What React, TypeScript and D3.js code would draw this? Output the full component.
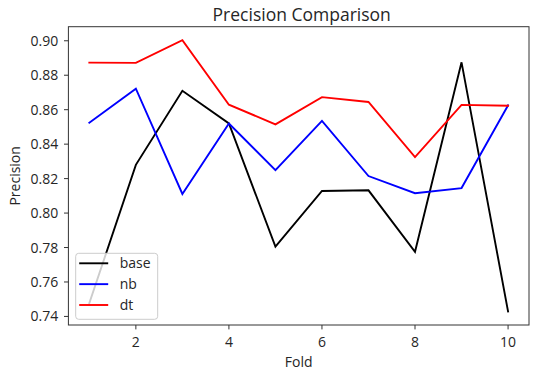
import React from "react";
import * as d3 from "d3";

const folds = [1, 2, 3, 4, 5, 6, 7, 8, 9, 10];
const baseValues = [0.7477, 0.828, 0.871, 0.852, 0.7805, 0.8128, 0.8132, 0.7775, 0.8875, 0.7429];
const nbValues = [0.8524, 0.8722, 0.8111, 0.852, 0.8249, 0.8535, 0.8215, 0.8115, 0.8145, 0.8625];
const dtValues = [0.8873, 0.8872, 0.9003, 0.8629, 0.8515, 0.8673, 0.8645, 0.8325, 0.8628, 0.8623];
const xTicks = [2, 4, 6, 8, 10];
const yTicks = [0.74, 0.76, 0.78, 0.8, 0.82, 0.84, 0.86, 0.88, 0.9];

const seriesNames = ["base", "nb", "dt"];
const seriesData = [baseValues, nbValues, dtValues];
const seriesColors = ["#000000", "#0000ff", "#ff0000"];

const W = 554;
const H = 372;
const M = { left: 68.4, right: 529, top: 26.7, bottom: 325 };
const FONT = "'Open Sans', 'Noto Sans', sans-serif";
const TXT = "#262626";

export default function App() {
  const allVals = seriesData.flat();
  const yMin = d3.min(allVals)!;
  const yMax = d3.max(allVals)!;
  const yPad = (yMax - yMin) * 0.05;
  const xPad = (d3.max(folds)! - d3.min(folds)!) * 0.05;

  const x = d3.scaleLinear().domain([d3.min(folds)! - xPad, d3.max(folds)! + xPad]).range([M.left, M.right]);
  const y = d3.scaleLinear().domain([yMin - yPad, yMax + yPad]).range([M.bottom, M.top]);

  const line = d3
    .line<number>()
    .x((_, i) => x(folds[i]))
    .y((d) => y(d));

  const legX = 75.7;
  const legY = 253.3;
  const legW = 82;
  const legH = 66;

  return (
    <div style={{ position: "fixed", left: 0, top: 0, width: W, height: H, background: "#fff" }}>
      <svg width={W} height={H} style={{ display: "block" }} fontFamily={FONT}>
        <rect x={0} y={0} width={W} height={H} fill="#fff" />
        <defs>
          <clipPath id="plotclip">
            <rect x={M.left} y={M.top} width={M.right - M.left} height={M.bottom - M.top} />
          </clipPath>
        </defs>
        <g clipPath="url(#plotclip)">
          {seriesData.map((vals, i) => (
            <path
              key={seriesNames[i]}
              d={line(vals) || ""}
              fill="none"
              stroke={seriesColors[i]}
              strokeWidth={1.9}
              strokeLinejoin="miter"
              strokeLinecap="square"
            />
          ))}
        </g>
        <rect
          x={M.left}
          y={M.top}
          width={M.right - M.left}
          height={M.bottom - M.top}
          fill="none"
          stroke="#333"
          strokeWidth={1}
        />
        {xTicks.map((t) => (
          <g key={"x" + t}>
            <line x1={x(t)} x2={x(t)} y1={M.bottom} y2={M.bottom + 4.4} stroke="#333" strokeWidth={1} />
            <text x={x(t)} y={347.3} textAnchor="middle" fontSize={14} fill={TXT}>
              {t}
            </text>
          </g>
        ))}
        {yTicks.map((t) => (
          <g key={"y" + t}>
            <line x1={M.left - 4.4} x2={M.left} y1={y(t)} y2={y(t)} stroke="#333" strokeWidth={1} />
            <text x={58.3} y={y(t)} dy="0.36em" textAnchor="end" fontSize={14} fill={TXT}>
              {t.toFixed(2)}
            </text>
          </g>
        ))}
        <text x={(M.left + M.right) / 2 + 3} y={20.5} textAnchor="middle" fontSize={17.5} fill={TXT}>
          Precision Comparison
        </text>
        <text x={(M.left + M.right) / 2} y={367} textAnchor="middle" fontSize={14} fill={TXT}>
          Fold
        </text>
        <text
          transform={`translate(${20},${(M.top + M.bottom) / 2}) rotate(-90)`}
          textAnchor="middle"
          fontSize={14}
          fill={TXT}
        >
          Precision
        </text>
        <rect
          x={legX}
          y={legY}
          width={legW}
          height={legH}
          rx={3}
          ry={3}
          fill="#fff"
          fillOpacity={0.8}
          stroke="#cccccc"
          strokeWidth={1}
        />
        {seriesNames.map((name, i) => {
          const ly = legY + 10 + i * 20.85;
          return (
            <g key={"leg" + name}>
              <line x1={legX + 3.5} x2={legX + 32.5} y1={ly} y2={ly} stroke={seriesColors[i]} strokeWidth={1.9} />
              <text x={legX + 44} y={ly} dy="0.36em" fontSize={14} fill={TXT}>
                {name}
              </text>
            </g>
          );
        })}
      </svg>
    </div>
  );
}
